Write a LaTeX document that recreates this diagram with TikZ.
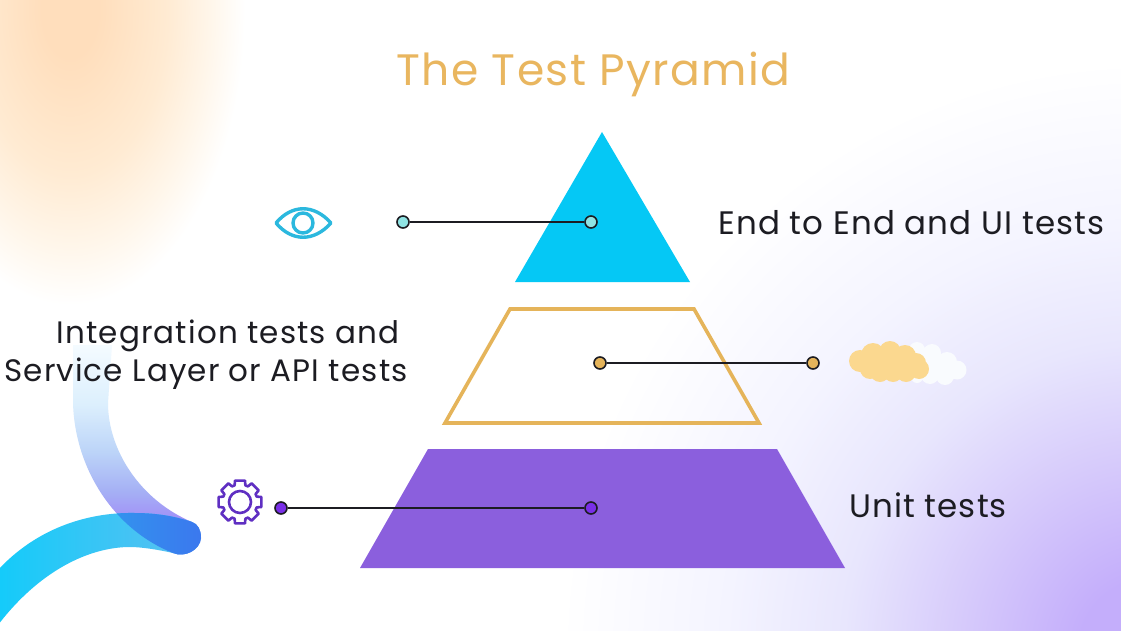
\documentclass[tikz,border=0pt]{standalone}
\usepackage{fontspec}
\setmainfont{Poppins}
\usetikzlibrary{calc}
\definecolor{inkc}{HTML}{1C1C22}
\definecolor{titlec}{HTML}{E9B65F}
\definecolor{cyanc}{HTML}{05C8F5}
\definecolor{goldc}{HTML}{E5B45A}
\definecolor{purplec}{HTML}{8B5FDD}
\definecolor{eyec}{HTML}{2BB8DE}
\definecolor{gearc}{HTML}{5F2FC2}
\definecolor{cloudc}{HTML}{FBD88F}
\definecolor{cloudw}{HTML}{F9FBFE}
\definecolor{dota}{HTML}{8FE3E3}
\definecolor{dotc}{HTML}{7A2FE8}
\definecolor{ra}{HTML}{F4FBFF}
\definecolor{rb}{HTML}{DCEFFD}
\definecolor{rc}{HTML}{BCD4F8}
\definecolor{rd}{HTML}{A5B0F5}
\definecolor{re}{HTML}{A080F8}
\pgfdeclareverticalshading{ribbonfade}{100bp}{
  color(0bp)=(re); color(31bp)=(re); color(40.6bp)=(rd); color(50bp)=(rc); color(61bp)=(rb); color(75bp)=(ra); color(100bp)=(ra)}
\definecolor{bleft}{HTML}{14CBFA}
\definecolor{bright}{HTML}{5EBFF0}
\definecolor{oleft}{HTML}{2F9FEE}
\definecolor{oright}{HTML}{3B78EE}
\definecolor{pa}{HTML}{C4AEFB}
\definecolor{pb}{HTML}{D6CAFB}
\definecolor{pc}{HTML}{E8E6FD}
\definecolor{pd}{HTML}{F4F4FF}
\pgfdeclareradialshading{purpleglow}{\pgfpoint{0bp}{0bp}}{
  color(0bp)=(pa); color(3bp)=(pa); color(8bp)=(pb); color(13bp)=(pc); color(18bp)=(pd); color(25bp)=(white); color(50bp)=(white)}
\definecolor{ora}{HTML}{FFDEBC}
\definecolor{orb}{HTML}{FFEBD3}
\definecolor{orc}{HTML}{FFF6EA}
\pgfdeclareradialshading{orangeglow}{\pgfpoint{0bp}{0bp}}{
  color(0bp)=(ora); color(4bp)=(ora); color(14bp)=(orb); color(20bp)=(orc); color(25bp)=(white); color(50bp)=(white)}
\tikzset{
  label right/.style={text=inkc,font=\addfontfeatures{LetterSpace=3.4}\fontsize{32.5}{38}\selectfont,inner sep=0pt,anchor=base},
  label left/.style={text=inkc,font=\addfontfeatures{LetterSpace=3.6}\fontsize{31}{38}\selectfont,inner sep=0pt,align=center},
  dot/.style={circle,draw=inkc,line width=1.6pt,minimum size=12pt,inner sep=0pt},
  link/.style={draw=inkc,line width=1.7pt},
  purple ribbon/.style={insert path={
    (73,345) -- (73,403) .. controls (75,470) and (115,530) .. (173,553)
    .. controls (185,558) and (200,550) .. (201,538)
    .. controls (201,530) and (198,524) .. (192,522)
    .. controls (140,500) and (108,450) .. (108,403) -- (112,345) -- cycle}},
  blue ribbon/.style={insert path={
    (-2,570) .. controls (35,530) and (85,512) .. (135,513)
    .. controls (155,513) and (175,516) .. (192,522)
    .. controls (198,524) and (201,530) .. (201,538)
    .. controls (200,550) and (185,558) .. (173,553)
    .. controls (155,549) and (140,547) .. (130,547)
    .. controls (90,547) and (40,570) .. (-2,625) -- cycle}},
}
\begin{document}
\begin{tikzpicture}[x=1pt,y=-1pt]
\useasboundingbox (0,0) rectangle (1121,631);
\begin{scope}
\clip (0,0) rectangle (1121,631);
\fill[white] (0,0) rectangle (1121,631);
% background glows
\shade[shading=purpleglow] (1150,650) circle (590);
\shade[shading=orangeglow] (70,10) ellipse (175 and 295);
% ribbons
\path[shade,shading=ribbonfade,purple ribbon];
\path[left color=bleft,right color=bright,blue ribbon];
\begin{scope}
\clip[blue ribbon];
\path[left color=oleft,right color=oright,purple ribbon];
\end{scope}
\end{scope}
% title
\node[text=titlec,font=\addfontfeatures{LetterSpace=3.3}\fontsize{44}{50}\selectfont,inner sep=0pt,anchor=base] (title) at (593.5,86) {The Test Pyramid};
% pyramid
\fill[cyanc] (602,132) -- (690,282) -- (515,282) -- cycle;
\draw[goldc,line width=3.6pt,line join=miter] (510,309) -- (694,309) -- (759,423) -- (445,423) -- cycle;
\fill[purplec] (428,449) -- (777,449) -- (845,568) -- (360,568) -- cycle;
% connectors
\node[dot,fill=dota] (a1) at (403,222) {};
\node[dot,fill=dota] (a2) at (591,222) {};
\draw[link] (a1) -- (a2);
\node[dot,fill=goldc] (b1) at (600,363) {};
\node[dot,fill=goldc] (b2) at (813,363) {};
\draw[link] (b1) -- (b2);
\node[dot,fill=dotc] (c1) at (281,508) {};
\node[dot,fill=dotc] (c2) at (591,508) {};
\draw[link] (c1) -- (c2);
% labels
\node[label right] (l1) at (911.5,234) {End to End and UI tests};
\node[label left] (l2) at (206,355) {\hspace*{44pt}Integration tests and\\Service Layer or API tests};
\node[label right] (l3) at (928,517) {Unit tests};
% eye
\draw[eyec,line width=3.4pt,line join=round] (276,223) .. controls (292,204) and (314,204) .. (331,223) .. controls (314,242) and (292,242) .. (276,223) -- cycle;
\draw[eyec,line width=3.4pt] (303,223) circle (10);
% gear
\draw[gearc,line width=2.6pt,line join=round,shift={(240,502)}]
 (-18:17.5) \foreach \a in {0,45,...,315} {
   -- (\a-13:22) -- (\a+13:22) -- (\a+18:17.5) -- (\a+27:17.5) } -- cycle;
\draw[gearc,line width=2.6pt] (240,502) circle (11);
% clouds
\fill[cloudw] (917,350) circle (8) (932,353) circle (9) (947,362) circle (10) (957,370) circle (9.5) (945,376) circle (9) (930,375) circle (9) (917,377) circle (6) (925,363) circle (12) (942,368) circle (9);
\fill[cloudc] (860,361) circle (11) (873,355) circle (12) (890,352) circle (11) (905,356) circle (11) (916,363) circle (10) (919,369) circle (10)
 (906,372) circle (10) (893,372) circle (10) (880,372) circle (10) (870,369) circle (10) (888,362) circle (14) (905,364) circle (11);
\end{tikzpicture}
\end{document}
